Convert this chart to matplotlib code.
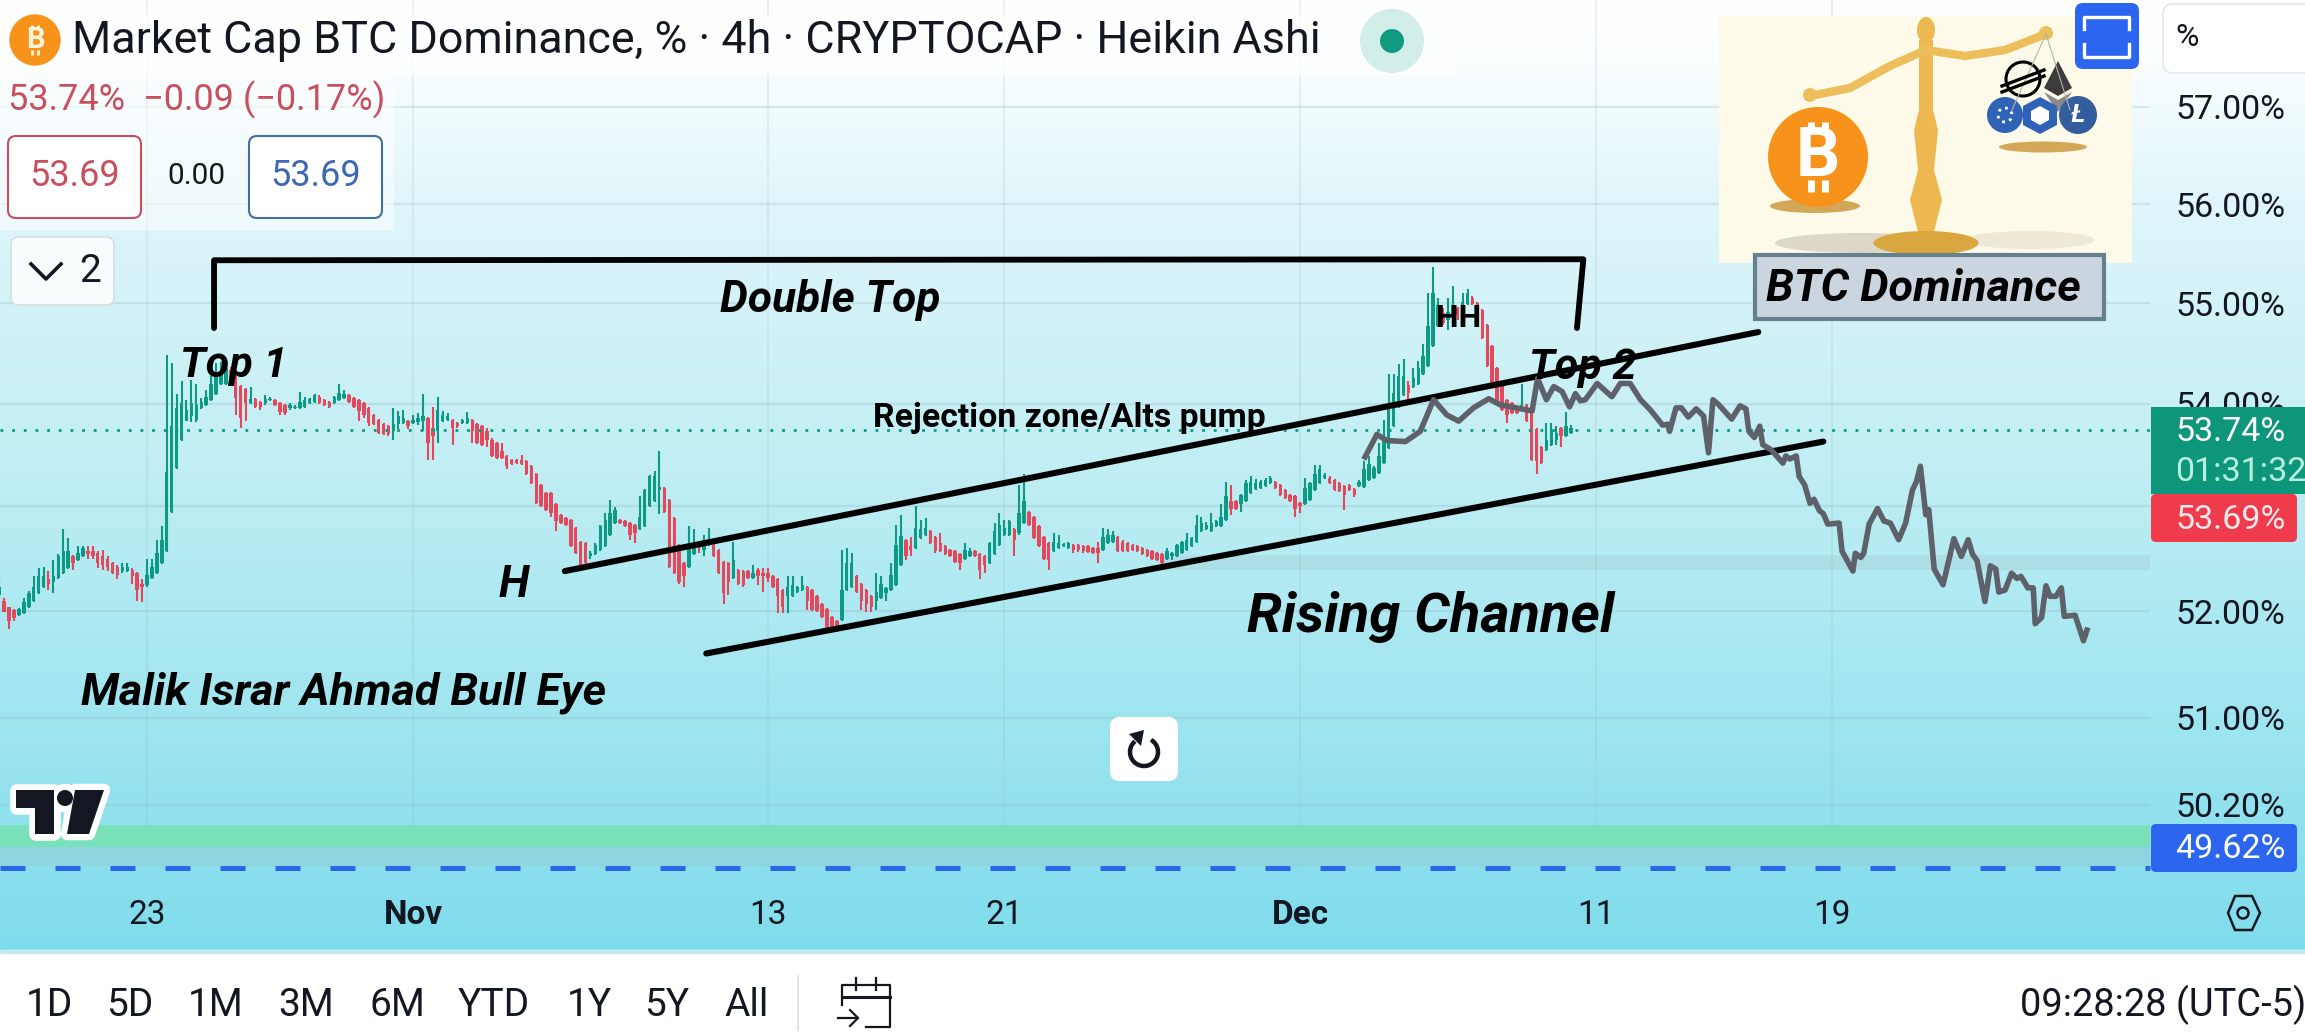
import numpy as np
import matplotlib
matplotlib.use("Agg")
import matplotlib.pyplot as plt
from matplotlib.patches import Rectangle, FancyBboxPatch, Circle, Ellipse, Polygon, Arc

plt.rcParams['font.family'] = ['Roboto', 'DejaVu Sans']

W, H = 2305, 1034

# Heikin Ashi candles
opens = [52.15,52.10,52.04,52.01,51.96,51.98,52.04,52.10,52.17,52.23,
52.30,52.28,52.31,52.36,52.41,52.52,52.49,52.52,52.57,52.57,
52.55,52.52,52.50,52.46,52.42,52.38,52.38,52.39,52.36,52.26,
52.25,52.31,52.36,52.46,52.57,52.95,53.37,53.65,53.83,53.88,
53.84,53.96,53.99,54.04,54.10,54.20,54.20,54.33,54.31,54.18,
54.15,54.01,54.05,54.02,54.01,54.04,54.04,54.01,53.99,53.96,
53.96,53.96,53.97,54.01,54.02,54.07,54.04,54.02,54.01,54.04,
54.06,54.09,54.06,54.04,54.01,53.96,53.89,53.84,53.80,53.78,
53.73,53.80,53.81,53.83,53.81,53.82,53.83,53.86,53.76,53.73,
53.83,53.84,53.84,53.81,53.81,53.81,53.84,53.80,53.78,53.73,
53.65,53.62,53.54,53.49,53.45,53.45,53.45,53.44,53.39,53.31,
53.21,53.13,53.13,53.02,52.92,52.89,52.87,52.79,52.66,52.65,
52.52,52.54,52.58,52.62,52.73,52.84,52.87,52.86,52.84,52.82,
52.78,52.81,53.00,53.05,53.16,53.18,53.06,52.89,52.63,52.46,
52.42,52.54,52.65,52.58,52.63,52.63,52.58,52.47,52.46,52.31,
52.39,52.38,52.38,52.31,52.39,52.36,52.36,52.33,52.30,52.20,
52.14,52.14,52.18,52.20,52.23,52.20,52.14,52.07,52.02,51.94,
51.91,51.92,52.20,52.23,52.33,52.26,52.20,52.14,52.10,52.12,
52.17,52.20,52.25,52.44,52.68,52.62,52.60,52.70,52.73,52.76,
52.71,52.65,52.62,52.58,52.57,52.54,52.50,52.52,52.57,52.54,
52.52,52.46,52.54,52.63,52.73,52.73,52.78,52.74,52.84,52.95,
52.90,52.81,52.71,52.65,52.57,52.60,52.62,52.60,52.63,52.63,
52.62,52.62,52.60,52.60,52.58,52.65,52.66,52.71,52.66,52.65,
52.63,52.62,52.60,52.58,52.57,52.55,52.54,52.50,52.52,52.52,
52.55,52.58,52.62,52.66,52.76,52.78,52.76,52.81,52.81,52.87,
53.05,53.05,53.02,53.05,53.13,53.17,53.18,53.20,53.23,53.24,
53.21,53.16,53.11,53.10,53.03,53.02,53.06,53.16,53.23,53.28,
53.28,53.26,53.23,53.20,53.21,53.17,53.20,53.19,53.26,53.28,
53.32,53.42,53.57,53.78,53.97,54.09,54.19,54.17,54.20,54.29,
54.37,54.57,54.77,54.90,54.83,54.86,54.95,54.91,54.99,55.05,
55.00,54.93,54.78,54.57,54.35,54.20,54.04,54.01,53.97,53.96,
53.99,53.91,53.75,53.58,53.55,53.60,53.65,53.76,53.68,53.71]

closes = [52.23,51.99,51.91,51.93,52.02,52.09,52.17,52.23,52.33,52.33,
52.26,52.33,52.52,52.57,52.57,52.46,52.55,52.60,52.54,52.52,
52.46,52.44,52.42,52.36,52.34,52.42,52.42,52.33,52.20,52.23,
52.34,52.42,52.55,52.68,53.33,53.78,53.96,54.01,53.94,54.01,
53.99,54.02,54.07,54.20,54.28,54.31,54.35,54.23,54.06,53.86,
54.01,54.05,53.97,53.97,54.05,54.05,53.99,53.92,53.91,53.99,
53.97,54.02,54.04,54.05,54.09,54.01,53.99,53.97,54.07,54.11,
54.10,54.02,53.97,53.93,53.89,53.81,53.80,53.71,53.70,53.70,
53.80,53.88,53.86,53.78,53.84,53.86,53.88,53.62,53.68,53.94,
53.89,53.88,53.76,53.78,53.84,53.86,53.73,53.62,53.60,53.65,
53.49,53.47,53.47,53.39,53.41,53.42,53.41,53.31,53.23,53.03,
53.00,52.97,52.94,52.86,52.84,52.82,52.62,52.55,52.42,52.46,
52.55,52.63,52.81,52.87,52.94,52.97,52.84,52.81,52.73,52.74,
52.90,53.16,53.29,53.29,53.19,52.95,52.42,52.36,52.28,52.33,
52.63,52.65,52.60,52.68,52.68,52.52,52.36,52.17,52.28,52.49,
52.26,52.25,52.31,52.36,52.33,52.33,52.31,52.23,52.14,52.04,
52.23,52.25,52.23,52.25,52.10,52.01,52.00,51.94,51.82,51.82,
51.85,52.20,52.46,52.46,52.18,52.10,52.07,52.04,52.18,52.26,
52.22,52.34,52.63,52.72,52.52,52.58,52.79,52.78,52.79,52.65,
52.57,52.57,52.54,52.52,52.47,52.46,52.58,52.57,52.52,52.39,
52.44,52.65,52.76,52.82,52.79,52.86,52.68,52.94,53.05,52.82,
52.70,52.62,52.50,52.49,52.66,52.65,52.64,52.65,52.58,52.58,
52.57,52.56,52.55,52.55,52.71,52.73,52.73,52.57,52.57,52.57,
52.58,52.57,52.54,52.52,52.50,52.49,52.46,52.57,52.55,52.63,
52.66,52.68,52.70,52.82,52.84,52.82,52.84,52.86,52.90,53.10,
52.98,52.98,53.11,53.23,53.24,53.23,53.24,53.26,53.28,53.18,
53.11,53.08,53.05,52.98,53.00,53.18,53.23,53.31,53.36,53.30,
53.23,53.16,53.15,53.11,53.16,53.11,53.24,53.36,53.41,53.37,
53.49,53.65,53.97,54.11,54.27,54.27,54.11,54.25,54.35,54.47,
54.77,55.10,54.98,54.80,54.91,54.98,54.88,55.01,55.10,54.99,
54.88,54.65,54.37,54.20,54.02,53.94,53.89,53.91,53.91,53.99,
53.83,53.45,53.44,53.42,53.65,53.73,53.71,53.68,53.78,53.76]

highs = [52.34,52.12,52.04,52.02,52.03,52.12,52.19,52.33,52.41,52.42,
52.38,52.49,52.54,52.78,52.70,52.53,52.62,52.62,52.62,52.62,
52.57,52.58,52.52,52.47,52.44,52.46,52.46,52.41,52.37,52.30,
52.50,52.50,52.68,52.81,54.48,54.40,54.10,54.22,54.04,54.23,
54.20,54.06,54.14,54.27,54.40,54.41,54.41,54.36,54.32,54.19,
54.16,54.17,54.06,54.03,54.09,54.07,54.05,54.02,54.00,54.01,
53.99,54.12,54.07,54.06,54.10,54.09,54.05,54.03,54.08,54.20,
54.14,54.10,54.07,54.05,54.02,53.97,53.90,53.85,53.81,53.79,
53.96,53.93,53.94,53.84,53.89,53.91,54.10,53.87,53.97,54.07,
53.93,53.91,53.85,53.82,53.85,53.92,53.85,53.81,53.79,53.76,
53.66,53.63,53.62,53.50,53.46,53.46,53.50,53.45,53.40,53.32,
53.22,53.14,53.14,53.03,52.93,52.90,52.88,52.80,52.67,52.66,
52.57,52.65,52.82,52.94,53.06,52.99,52.88,52.87,52.85,52.83,
53.10,53.17,53.30,53.34,53.54,53.19,53.07,52.90,52.64,52.47,
52.81,52.78,52.66,52.73,52.79,52.64,52.59,52.48,52.47,52.66,
52.40,52.39,52.39,52.44,52.41,52.41,52.41,52.34,52.31,52.21,
52.33,52.33,52.24,52.33,52.24,52.21,52.15,52.08,52.03,51.95,
51.92,52.58,52.60,52.55,52.34,52.27,52.21,52.15,52.36,52.33,
52.23,52.46,52.82,52.92,52.69,52.71,53.00,52.87,52.89,52.77,
52.72,52.74,52.63,52.59,52.58,52.55,52.65,52.60,52.58,52.55,
52.53,52.66,52.84,52.94,52.87,52.87,52.79,53.21,53.31,52.96,
52.91,52.82,52.72,52.66,52.74,52.73,52.65,52.66,52.64,52.64,
52.63,52.63,52.61,52.66,52.79,52.78,52.76,52.72,52.68,52.66,
52.64,52.63,52.61,52.59,52.58,52.56,52.55,52.60,52.56,52.64,
52.67,52.74,52.71,52.92,52.90,52.85,52.94,52.87,53.02,53.24,
53.21,53.06,53.12,53.26,53.29,53.27,53.26,53.28,53.29,53.25,
53.22,53.17,53.12,53.11,53.04,53.28,53.24,53.40,53.40,53.32,
53.29,53.27,53.24,53.21,53.22,53.18,53.26,53.44,53.49,53.39,
53.62,53.84,54.29,54.29,54.39,54.44,54.22,54.35,54.42,54.59,
55.10,55.36,55.05,54.95,55.05,55.17,54.96,55.10,55.14,55.07,
55.01,54.94,54.79,54.58,54.36,54.21,54.05,54.02,53.98,54.20,
54.00,53.92,53.76,53.59,53.81,53.81,53.78,53.77,53.92,53.79]

lows = [52.12,51.99,51.83,51.91,51.95,51.97,52.03,52.09,52.16,52.22,
52.20,52.17,52.30,52.35,52.40,52.39,52.48,52.51,52.50,52.50,
52.41,52.39,52.38,52.35,52.30,52.36,52.37,52.26,52.10,52.09,
52.23,52.30,52.35,52.45,52.56,52.94,53.36,53.64,53.83,53.82,
53.82,53.95,53.98,54.03,54.09,54.19,54.19,54.18,53.89,53.76,
53.83,54.00,53.96,53.94,53.99,54.03,53.98,53.89,53.89,53.94,
53.95,53.95,53.96,54.00,54.01,54.00,53.98,53.96,54.00,54.03,
54.05,54.01,53.96,53.83,53.86,53.78,53.79,53.70,53.69,53.68,
53.65,53.75,53.80,53.75,53.80,53.79,53.73,53.45,53.45,53.62,
53.82,53.83,53.60,53.76,53.80,53.80,53.62,53.61,53.59,53.58,
53.48,53.46,53.46,53.36,53.40,53.41,53.40,53.30,53.22,53.02,
52.99,52.96,52.90,52.76,52.83,52.81,52.61,52.54,52.41,52.41,
52.50,52.53,52.57,52.61,52.72,52.83,52.83,52.80,52.68,52.65,
52.77,52.80,52.99,53.04,52.93,52.94,52.41,52.35,52.26,52.23,
52.41,52.53,52.55,52.52,52.62,52.51,52.35,52.07,52.15,52.30,
52.25,52.23,52.30,52.30,52.25,52.18,52.28,52.22,51.98,51.98,
51.98,52.13,52.17,52.19,52.01,52.00,51.99,51.93,51.81,51.80,
51.80,51.91,52.19,52.22,52.17,52.01,51.99,51.99,52.01,52.11,
52.10,52.19,52.24,52.43,52.49,52.52,52.59,52.69,52.72,52.64,
52.55,52.56,52.53,52.51,52.46,52.39,52.49,52.51,52.51,52.30,
52.36,52.45,52.53,52.62,52.72,52.72,52.52,52.73,52.83,52.81,
52.69,52.61,52.49,52.39,52.56,52.59,52.61,52.59,52.55,52.56,
52.55,52.55,52.54,52.46,52.57,52.64,52.65,52.56,52.56,52.56,
52.57,52.56,52.53,52.51,52.49,52.48,52.39,52.49,52.49,52.51,
52.54,52.57,52.61,52.65,52.75,52.77,52.75,52.80,52.80,52.86,
52.92,52.97,52.95,53.04,53.12,53.16,53.17,53.19,53.22,53.17,
53.10,53.07,53.04,52.90,52.94,53.01,53.05,53.15,53.22,53.27,
53.22,53.15,53.14,52.97,53.15,53.09,53.19,53.18,53.25,53.27,
53.31,53.41,53.56,53.77,53.96,54.08,54.02,54.16,54.19,54.28,
54.36,54.56,54.76,54.78,54.73,54.85,54.83,54.90,54.98,54.98,
54.87,54.64,54.36,54.19,54.01,53.93,53.81,53.90,53.90,53.94,
53.82,53.44,53.31,53.41,53.54,53.59,53.60,53.58,53.67,53.70]

# hand drawn projection
path_x = [277.2,279.6,281.6,285.4,288.4,291.1,293.8,296.2,299.2,302.3,304.6,311.1,312.2,314.0,315.5,317.2,318.7,319.9,320.9,321.9,
324.3,327.3,329.0,331.0,333.1,335.1,337.6,338.6,339.0,340.3,341.4,342.8,344.4,345.9,346.9,347.8,349.0,351.6,353.3,354.5,
355.1,356.2,357.3,357.9,359.6,362.0,362.6,363.4,364.7,365.3,366.4,367.5,368.3,369.4,370.2,371.1,373.4,374.0,376.2,376.7,
377.8,378.4,379.5,381.2,382.5,383.8,385.5,386.9,388.3,389.1,389.9,391.0,391.6,392.7,394.5,396.7,398.2,399.6,400.5,401.4,
403.0,404.1,405.2,405.8,407.1,408.4,409.5,410.3,411.7,412.8,413.2,414.5,415.4,416.2,417.4,418.5,419.1,421.3,423.0,423.7]
path_y = [53.48,53.70,53.64,53.63,53.73,54.04,53.89,53.83,53.96,54.05,53.99,53.93,54.25,54.04,54.17,54.12,53.97,54.10,54.03,54.04,
54.20,54.07,54.20,54.20,54.04,53.94,53.79,53.80,53.73,53.96,53.96,53.87,53.95,53.88,53.52,54.04,53.99,53.85,53.98,53.95,
53.73,53.67,53.78,53.60,53.55,53.42,53.49,53.46,53.49,53.29,53.21,53.03,53.07,52.96,52.93,52.83,52.84,52.57,52.38,52.55,
52.51,52.55,52.83,52.98,52.86,52.84,52.68,52.84,53.16,53.24,53.39,52.92,52.97,52.40,52.25,52.69,52.52,52.68,52.54,52.48,
52.09,52.43,52.40,52.18,52.20,52.36,52.31,52.33,52.22,52.22,51.88,51.94,52.24,52.14,52.14,52.22,51.95,51.96,51.72,51.82]

# drawn lines, bar index / price
upper_x = [114.8, 357.0]
upper_y = [52.38, 54.71]
lower_x = [143.5, 370.2]
lower_y = [51.60, 53.63]
bracket_x = [43.6, 43.6, 321.5, 320.2]
bracket_y = [54.75, 55.43, 55.44, 54.75]

price_ticks = [57, 56, 55, 54, 53, 52, 51, 50.2]
# 53.00% sits under the red tag in the original
price_labels = ['57.00%', '56.00%', '55.00%', '54.00%', '', '52.00%', '51.00%', '50.20%']
time_ticks = [30, 84, 156, 204, 264, 324, 372]
time_labels = ['23', 'Nov', '13', '21', 'Dec', '11', '19']
range_labels = ['1D', '5D', '1M', '3M', '6M', 'YTD', '1Y', '5Y', 'All']
range_pos = [49, 130, 216, 306, 397, 494, 589, 667, 747]

last_price = 53.74
low_line = 49.62

DARK = '#131722'
GREEN = '#0C9A84'
RED = '#E4485A'
GRID = '#8FB3BC'
BLUE = '#2A66E8'

fig = plt.figure(figsize=(W / 100, H / 100), dpi=100)


def px_axes(left, top, right, bottom, **kw):
    return fig.add_axes([left / W, 1 - bottom / H, (right - left) / W, (bottom - top) / H], **kw)


# background gradient
bg = fig.add_axes([0, 0, 1, 1], zorder=0)
stops_y = [0, 60, 200, 500, 950, 951]
stops_r = [255, 250, 224, 188, 127, 127]
stops_g = [255, 254, 246, 237, 220, 220]
stops_b = [255, 255, 250, 243, 236, 236]
yy = np.arange(0, 951)
grad = np.stack([np.interp(yy, stops_y, stops_r), np.interp(yy, stops_y, stops_g), np.interp(yy, stops_y, stops_b)], axis=1) / 255
bg.imshow(grad[:, None, :], extent=[0, W, 951, 0], aspect='auto')
bg.set_xlim(0, W)
bg.set_ylim(H, 0)
bg.add_patch(Rectangle((0, 950), W, 84, color='white', zorder=3))
bg.add_patch(Rectangle((0, 950), W, 3, color='#C4E9F0', zorder=4))
bg.axis('off')

# price chart, log scale like the original
ax = px_axes(0, 0, 2150, 885, zorder=1)
ax.patch.set_alpha(0)
ax.set_yscale('log')
ax.set_xlim(0.16, 436.5)
ax.set_ylim(49.47, 58.12)
for s in ax.spines.values():
    s.set_visible(False)
ax.yaxis.tick_right()
ax.set_yticks(price_ticks)
ax.set_yticklabels(price_labels)
ax.yaxis.set_minor_locator(matplotlib.ticker.NullLocator())
ax.set_xticks(time_ticks)
ax.set_xticklabels(time_labels)
ax.tick_params(axis='y', length=0, pad=18, labelsize=24.5, labelcolor='#131722')
ax.tick_params(axis='x', length=0, pad=10, labelsize=24, labelcolor='#131722')
for t in ax.get_xticklabels():
    if t.get_text() in ('Nov', 'Dec'):
        t.set_fontweight('bold')

ax.hlines(price_ticks, 0.16, 436.5, color=GRID, lw=1.6, alpha=0.25, zorder=1)
ax.vlines(time_ticks, low_line, 58.12, color=GRID, lw=1.2, alpha=0.2, zorder=1)

ax.axhspan(49.81, 50.01, color='#78E2B8', alpha=0.95, lw=0, zorder=1.5)
ax.axhspan(49.64, 49.81, color='#8ED5DF', lw=0, zorder=1.5)
ax.axhspan(52.39, 52.53, xmin=0.54, color='#8A9AA0', alpha=0.14, lw=0, zorder=1.5)

idx = np.arange(len(opens))
o = np.array(opens)
c = np.array(closes)
colors = [GREEN if cl >= op else RED for op, cl in zip(o, c)]
ax.vlines(idx, lows, highs, color=colors, lw=1.5, zorder=2)
ax.bar(idx, np.abs(c - o), bottom=np.minimum(o, c), width=0.7, color=colors, lw=0, zorder=2.1)

ax.axhline(last_price, color=GREEN, lw=2, ls=(0, (1, 3.2)), zorder=2.5)
ax.axhline(low_line, color=BLUE, lw=3.6, ls=(0, (25 / 5, 30 / 5)), zorder=2.5, clip_on=False)

ax.plot(upper_x, upper_y, color='black', lw=4.4, solid_capstyle='round', zorder=3)
ax.plot(lower_x, lower_y, color='black', lw=4.4, solid_capstyle='round', zorder=3)
ax.plot(bracket_x, bracket_y, color='black', lw=4.2, solid_capstyle='round', zorder=3)
ax.plot(path_x, path_y, color='#5E6169', lw=4.0, solid_joinstyle='round', zorder=3.5)

# everything else sits in an overlay in screen pixels
ui = fig.add_axes([0, 0, 1, 1], zorder=5)
ui.patch.set_alpha(0)
ui.set_xlim(0, W)
ui.set_ylim(H, 0)
ui.axis('off')


def txt(x, y, s, size, color=DARK, ha='left', va='center', **kw):
    return ui.text(x, y, s, fontsize=size, color=color, ha=ha, va=va, **kw)


def rbox(x0, y0, x1, y1, r=8, fc='white', ec='none', lw=0, **kw):
    p = FancyBboxPatch((x0 + r, y0 + r), x1 - x0 - 2 * r, y1 - y0 - 2 * r,
                       boxstyle='round,pad=%g,rounding_size=%g' % (r, r), fc=fc, ec=ec, lw=lw, **kw)
    ui.add_patch(p)
    return p


def btc_mark(x, y, size, col):
    # no installed font has the bitcoin sign, so B plus its two ticks
    k = size * 1.389
    txt(x, y, 'B', size, color=col, ha='center', fontweight='bold')
    for dx in (-0.1, 0.1):
        ui.plot([x + dx * k, x + dx * k], [y - 0.5 * k, y - 0.33 * k], color=col, lw=size * 0.1, solid_capstyle='butt')
        ui.plot([x + dx * k, x + dx * k], [y + 0.33 * k, y + 0.5 * k], color=col, lw=size * 0.1, solid_capstyle='butt')


# header
ui.add_patch(Rectangle((0, 15), 1455, 60, color='white', alpha=0.75, lw=0))
ui.add_patch(Rectangle((0, 75), 394, 155, color='white', alpha=0.55, lw=0))
ui.add_patch(Circle((35, 40), 25, color='#F7931A'))
btc_mark(35, 40, 21, '#FFF3DC')
txt(72, 41, 'Market Cap BTC Dominance, % · 4h · CRYPTOCAP · Heikin Ashi', 32.3)
txt(8, 100, '53.74%  \u22120.09 (\u22120.17%)', 26, color='#C8505E')
rbox(8, 136, 141, 218, fc='white', ec='#C8505E', lw=1.5)
txt(75, 176, '53.69', 26, color='#C8505E', ha='center')
txt(196, 176, '0.00', 21.5, ha='center')
rbox(249, 136, 382, 218, fc='white', ec='#41709F', lw=1.5)
txt(316, 176, '53.69', 26, color='#3D68B5', ha='center')
rbox(11, 237, 114, 305, fc='#F8FCFD', ec='#D5DEE2', lw=1.2)
ui.plot([31, 46, 61], [264, 279, 264], color=DARK, lw=2.6)
txt(90, 272, '2', 28, ha='center')

ui.add_patch(Circle((1392, 41), 32, color='#D2EEE8', lw=0))
ui.add_patch(Circle((1392, 41), 12, color='#109A80', lw=0))

# scale picture
ui.add_patch(Rectangle((1719, 16), 413, 247, color='#FEFAEA', lw=0))
ui.add_patch(Ellipse((1860, 243), 170, 20, color='#DCD9C8', lw=0))
ui.add_patch(Ellipse((2030, 240), 130, 18, color='#EDE9D6', lw=0))
GOLD = '#EDBE5C'
beam_x = [1810, 1850, 1890, 1926, 1965, 2005, 2046]
beam_y = [96, 88, 66, 50, 56, 50, 34]
ui.plot(beam_x, beam_y, color=GOLD, lw=6, solid_capstyle='round')
ui.add_patch(Circle((1810, 95), 7, color=GOLD, lw=0))
ui.add_patch(Circle((2046, 33), 7, color=GOLD, lw=0))
ui.add_patch(Polygon([(1919, 40), (1933, 40), (1933, 110), (1938, 130), (1934, 170), (1942, 200),
                      (1934, 232), (1918, 232), (1910, 200), (1918, 170), (1914, 130), (1919, 110)],
                     color='#EDB84F', lw=0))
ui.add_patch(Ellipse((1926, 30), 18, 26, color='#EDB84F', lw=0))
ui.add_patch(Ellipse((1926, 243), 105, 24, color='#D9A63F', lw=0))
ui.add_patch(Ellipse((1815, 206), 90, 14, color='#D2A858', lw=0))
ui.add_patch(Circle((1818, 157), 50, color='#F7931A', lw=0))
btc_mark(1818, 157, 50, 'white')
ui.add_patch(Ellipse((2043, 147), 88, 11, color='#D2A858', lw=0))
ui.plot([2046, 2012], [34, 110], color='#B8B2A0', lw=0.8)
ui.plot([2046, 2070], [34, 110], color='#B8B2A0', lw=0.8)
ui.add_patch(Polygon([(2058, 61), (2072, 88), (2058, 96), (2044, 88)], color='#3B3B3B', lw=0))
ui.add_patch(Polygon([(2058, 100), (2072, 92), (2058, 112), (2044, 92)], color='#8A8A8A', lw=0))
ui.add_patch(Circle((2023, 79), 17, fc='none', ec='black', lw=2.2))
ui.plot([2002, 2044], [86, 70], color='black', lw=2.4)
ui.plot([2002, 2044], [92, 76], color='black', lw=2.4)
ui.add_patch(Circle((2005, 115), 18, color='#2F63B8', lw=0))
ui.add_patch(Circle((2005, 115), 7, fc='none', ec='white', lw=2, ls=':'))
ui.add_patch(Polygon([(2040, 97), (2057, 106), (2057, 125), (2040, 134), (2023, 125), (2023, 106)],
                     color='#2F63B8', lw=0))
ui.add_patch(Polygon([(2040, 106), (2049, 111), (2049, 120), (2040, 125), (2031, 120), (2031, 111)],
                     color='white', lw=0))
ui.add_patch(Circle((2078, 115), 19, color='#345D9D', lw=0))
txt(2078, 115, 'Ł', 19, color='white', ha='center', fontweight='bold', style='italic')

ui.add_patch(Rectangle((1755, 255), 349, 64, fc='#CBD5E0', ec='#66808F', lw=3))
txt(1766, 289, 'BTC Dominance', 32.3, color='black', fontweight='bold', style='italic')

rbox(2075, 3, 2139, 69, r=8, fc='#2C66F0')
ui.plot([2084, 2084, 2129, 2129], [29, 17, 17, 29], color='white', lw=2.4, solid_joinstyle='round')
ui.plot([2084, 2084, 2129, 2129], [44, 57, 57, 44], color='white', lw=2.4, solid_joinstyle='round')
rbox(2163, 4, 2320, 73, r=10, fc='white', ec='#E3E7EA', lw=1.2)
txt(2175, 37, '%', 23)

# price tags
ui.add_patch(Rectangle((2151, 407), 154, 87, color='#0D9679', lw=0))
txt(2175, 432, '53.74%', 24.5, color='white')
txt(2175, 472, '01:31:32', 24.5, color='#B8F0DD')
rbox(2151, 494, 2297, 542, r=5, fc='#EF3B4C')
txt(2175, 520, '53.69%', 24.5, color='#FFE9EB')
rbox(2151, 824, 2297, 872, r=5, fc='#2C66EE')
txt(2175, 849, '49.62%', 24.5, color='white')

# drawn notes
txt(180, 365, 'Top 1', 31, color='black', fontweight='bold', style='italic')
txt(720, 300, 'Double Top', 31.8, color='black', fontweight='bold', style='italic')
txt(873, 418, 'Rejection zone/Alts pump', 24.3, color='black', fontweight='bold')
txt(1436, 318, 'HH', 23, color='black', fontweight='bold')
txt(1529, 368, 'Top 2', 31, color='black', fontweight='bold', style='italic')
txt(499, 585, 'H', 32, color='black', fontweight='bold', style='italic')
txt(1247, 617, 'Rising Channel', 40.4, color='black', fontweight='bold', style='italic')
txt(81, 693, 'Malik Israr Ahmad Bull Eye', 32.2, color='black', fontweight='bold', style='italic')

# reset button
rbox(1110, 717, 1178, 781, r=10, fc='white')
ui.add_patch(Arc((1144, 752), 28, 28, theta1=-60, theta2=230, color=DARK, lw=3.2))
ui.add_patch(Polygon([(1129, 734), (1144, 730), (1141, 746)], color=DARK, lw=0))

# TradingView logo
for lw_, col in [(9, 'white'), (0, DARK)]:
    ui.add_patch(Polygon([(16, 790), (54, 790), (54, 834), (35, 834), (35, 808), (16, 808)],
                         fc=col, ec=col, lw=lw_, joinstyle='round'))
    ui.add_patch(Polygon([(75, 790), (104, 790), (89, 834), (67, 834)], fc=col, ec=col, lw=lw_, joinstyle='round'))
    ui.add_patch(Circle((65, 798), 8, fc=col, ec=col, lw=lw_))

# settings hexagon
ui.add_patch(Polygon([(2228, 913), (2235, 896), (2252, 896), (2260, 913), (2252, 930), (2235, 930)],
                     fc='none', ec=DARK, lw=1.8))
ui.add_patch(Circle((2243, 913), 5.5, fc='none', ec=DARK, lw=1.8))

# bottom bar
for s, x in zip(range_labels, range_pos):
    txt(x, 1005, s, 28, ha='center')
ui.plot([798, 798], [976, 1030], color='#DADDE0', lw=1.2)
ui.plot([842, 842, 890, 890, 866], [1005, 985, 985, 1027, 1027], color=DARK, lw=1.6)
ui.plot([842, 890], [997, 997], color=DARK, lw=2.2)
ui.plot([856, 856], [978, 990], color=DARK, lw=1.6)
ui.plot([876, 876], [978, 990], color=DARK, lw=1.6)
ui.plot([838, 858], [1018, 1018], color=DARK, lw=1.6)
ui.plot([850, 858, 850], [1010, 1018, 1026], color=DARK, lw=1.6)
txt(2020, 1005, '09:28:28 (UTC-5)', 27.4)

fig.savefig('out.png', dpi=100)
